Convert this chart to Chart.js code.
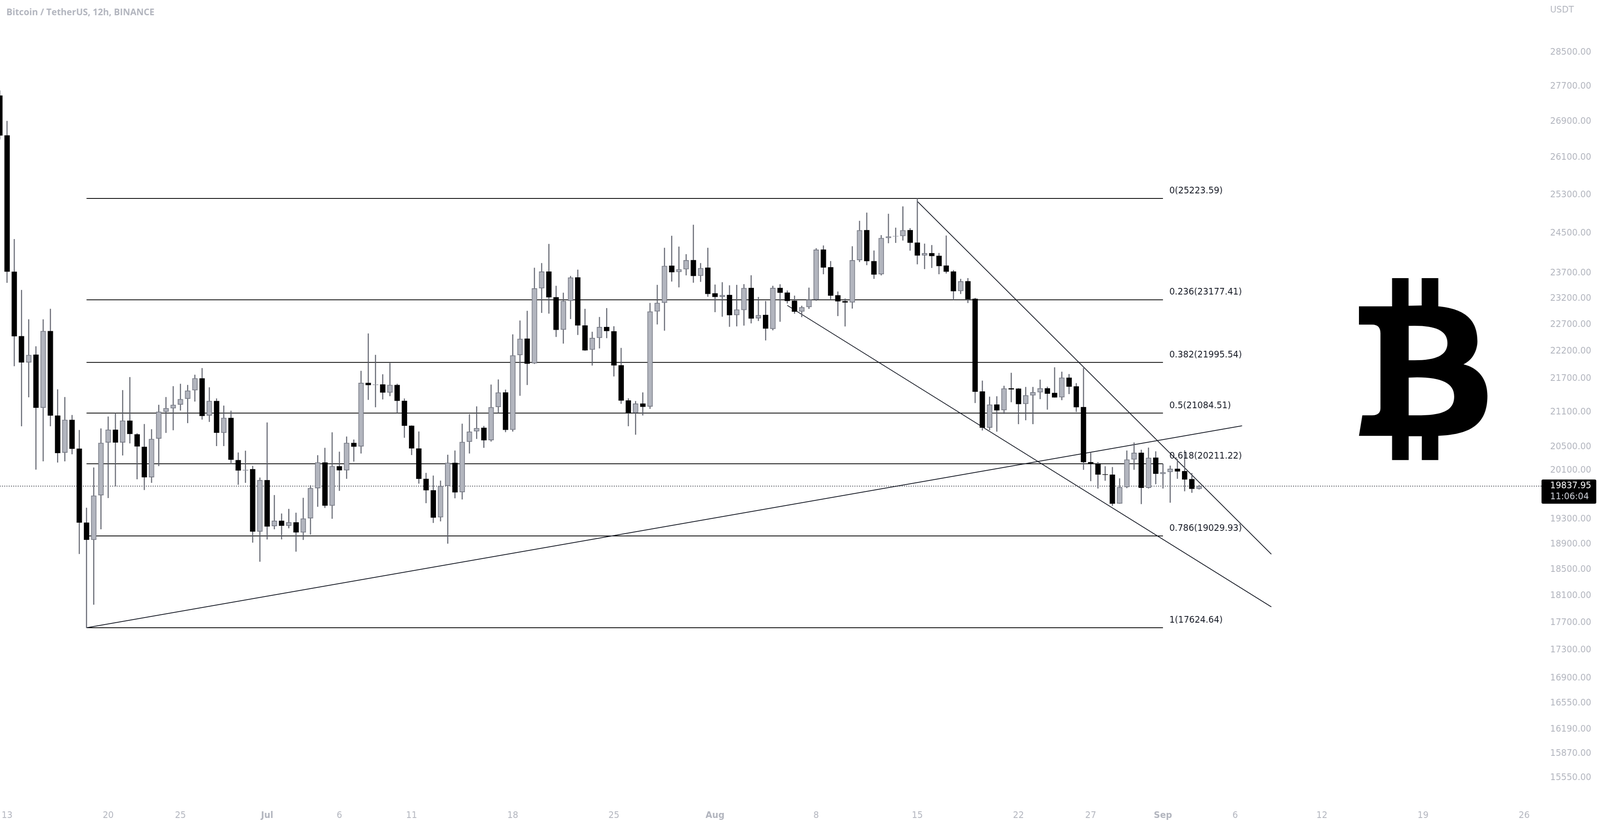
<!DOCTYPE html>
<html>
<head>
<meta charset="utf-8">
<title>Bitcoin / TetherUS, 12h, BINANCE</title>
<script src="https://cdn.jsdelivr.net/npm/chart.js@4"></script>
<style>
  html, body { margin: 0; padding: 0; background: #fff; overflow: hidden; }
  canvas { display: block; }
</style>
</head>
<body>
<canvas id="grafico" width="4268" height="2112" style="width:100vw;height:100vh"></canvas>
<script>
const opens = [
  27486,26587,23727,22483,21997,22139,21180,22579,21042,20400,
  20966,20467,19243,18968,19688,20574,20794,20574,20953,20714,
  20500,19985,20641,21108,21170,21236,21339,21491,21705,21042,
  21298,20741,21000,20274,20098,20121,19100,19935,19187,19271,
  19193,19246,19085,19312,19804,20234,19517,20170,20101,20567,
  20507,21622,21586,21594,21450,21586,21301,20863,20469,19959,
  19768,19329,19842,20227,19739,20587,20767,20828,20614,21194,
  21452,20794,22133,22437,21980,23401,23728,23227,22606,23157,
  23614,22685,22231,22451,22657,22575,21944,21309,21091,21254,
  21201,22953,23119,23845,23722,23776,23957,23646,23806,23302,
  23235,23270,22885,22982,23407,22823,22885,22621,23408,23317,
  23158,22952,23038,23180,24169,23815,23264,23152,23127,23959,
  24565,23936,23677,24405,24436,24444,24565,24311,24052,24098,
  24045,23849,23731,23348,23540,23196,21470,20831,21236,21137,
  21525,21520,21247,21399,21454,21525,21443,21365,21717,21560,
  21192,20238,20207,20035,20028,19550,19823,20285,20398,19810,
  20314,20041,20073,20127,20088,19953,19793
];
const highs = [
  27600,26907,24380,23365,22800,22292,22800,23000,21505,21367,
  21049,20787,19481,20147,20815,21022,21084,21491,21726,20730,
  20891,20801,21229,21367,21562,21605,21584,21769,21890,21541,
  21342,21215,21125,20400,20431,20174,19978,20918,19688,19387,
  19462,19400,19643,19849,20354,20480,20747,20414,20674,20622,
  21840,22532,22133,21777,21982,21606,21341,20866,20761,20056,
  20011,19927,20362,20434,20897,21063,21201,20857,21591,21683,
  21500,22515,22777,22962,23803,23896,24281,23447,23312,23640,
  23765,23000,22564,22844,23014,22668,22262,21344,21296,21450,
  23113,23465,24203,24447,24227,24074,24673,23896,24203,23471,
  23517,23456,23465,23479,23654,23229,23151,23447,23477,23355,
  23255,23059,23411,24195,24250,23936,23335,23200,24234,24754,
  24924,24148,24460,24900,24613,25054,24602,25223.59,24287,24258,
  24098,24452,23757,23583,23598,23211,21662,21374,21381,21569,
  21804,21525,21548,21548,21680,21553,21904,21824,21781,21617,
  21892,20400,20238,20167,20154,19965,20434,20572,20447,20484,
  20420,20209,20178,20291,20438,20052,19856
];
const lows = [
  26500,23510,21929,20856,21367,20114,20254,20856,20234,20254,
  20374,18747,17624.64,17970,19137,19643,19836,20354,20560,19953,
  19775,19894,20174,20741,20787,21132,20911,21291,20973,20932,
  20514,20514,20207,19862,19894,18925,18626,18975,19137,18977,
  19153,18783,18968,19052,19500,19481,19306,19761,19961,20250,
  20387,21321,21190,21329,21387,21087,20657,20361,19881,19559,
  19239,19264,18909,19639,19620,20387,20637,20484,20591,21087,
  20754,20764,21394,21587,21970,22927,22913,22471,22347,22809,
  22508,22214,21941,22257,22448,21742,21251,20857,20710,21045,
  21162,22707,22589,23535,23421,23657,23512,23529,23238,22941,
  22854,22662,22671,22685,22727,22772,22406,22596,22758,23109,
  22912,22846,23003,23160,23679,23190,22866,22669,23010,23922,
  23859,23588,23656,24300,24307,24355,24150,23876,23781,23804,
  23679,23694,23177,23292,23117,21265,20783,20787,20763,21072,
  21279,20893,20961,20893,21334,21148,21362,21316,21424,21107,
  20112,19922,19800,19929,19515,19550,19806,20112,19544,19800,
  19871,19800,19567,19961,19754,19729,19784
];
const closes = [
  26587,23727,22483,21997,22132,21180,22579,21042,20394,20966,
  20467,19243,18968,19681,20567,20794,20574,20953,20721,20507,
  19985,20634,21108,21170,21229,21332,21484,21705,21036,21298,
  20741,21000,20281,20098,20108,19100,19936,19181,19271,19193,
  19246,19085,19307,19804,20234,19517,20170,20101,20567,20503,
  21622,21584,21594,21450,21586,21301,20863,20474,19959,19768,
  19322,19836,20227,19735,20581,20761,20822,20611,21187,21450,
  20791,22125,22432,21972,23398,23728,23224,22603,23154,23611,
  22685,22220,22448,22654,22581,21941,21307,21085,21251,21196,
  22950,23116,23842,23719,23773,23954,23643,23797,23291,23232,
  23267,22882,22988,23404,22817,22882,22626,23405,23314,23155,
  22949,23033,23177,24166,23812,23258,23147,23124,23954,24562,
  23938,23671,24402,24433,24444,24562,24307,24049,24095,24040,
  23838,23728,23345,23535,23188,21465,20831,21234,21134,21522,
  21508,21245,21399,21454,21525,21431,21362,21717,21557,21189,
  20238,20207,20032,20026,19548,19819,20282,20396,19808,20312,
  20045,20067,20125,20084,19948,19793,19837.95
];

const fibNiveles = ['0', '0.236', '0.382', '0.5', '0.618', '0.786', '1'];
const fibPrecios = [25223.59, 23177.41, 21995.54, 21084.51, 20211.22, 19029.93, 17624.64];
const fibInicio = 12;
const fibFin = 161;

// trend lines: bar index and price of both ends
const tendenciaX = [[12, 171.95], [127, 176], [109, 176]];
const tendenciaY = [[17624.64, 20863], [25162, 18741], [23069, 17935]];

const precioActual = 19837.95;
const cuentaAtras = '11:06:04';

const yTicks = [28500, 27700, 26900, 26100, 25300, 24500, 23700, 23200, 22700, 22200, 21700, 21100, 20500, 20100,
  19300, 18900, 18500, 18100, 17700, 17300, 16900, 16550, 16190, 15870, 15550];
const xTicks = [1, 15, 25, 37, 47, 57, 71, 85, 99, 113, 127, 141, 151, 161, 171, 183, 197, 211];
const xLabels = ['13', '20', '25', 'Jul', '6', '11', '18', '25', 'Aug', '8', '15', '22', '27', 'Sep', '6', '12', '19', '26'];

const FUENTE = '"DejaVu Sans"';
const GRIS_TEXTO = '#b2b5be';

function colorCuerpo(ctx) {
  const i = ctx.dataIndex;
  return closes[i] >= opens[i] ? '#b2b5be' : '#000000';
}
function colorBorde(ctx) {
  const i = ctx.dataIndex;
  return closes[i] >= opens[i] ? '#787b86' : '#000000';
}

// tick labels must not push the plot area in from the page edge
function sinRelleno(s) {
  s.paddingLeft = 0;
  s.paddingRight = 0;
  s.paddingTop = 0;
  s.paddingBottom = 0;
}

const datasets = [];

// wicks and bodies, lower order is drawn on top
datasets.push({
  type: 'bar',
  data: highs.map((h, i) => ({ x: i, y: [lows[i], h] })),
  backgroundColor: '#5a5d68',
  borderWidth: 0,
  barThickness: 2,
  maxBarThickness: 2,
  grouped: false,
  order: 2
});
datasets.push({
  type: 'bar',
  data: opens.map((o, i) => ({ x: i, y: [o, closes[i]] })),
  backgroundColor: colorCuerpo,
  borderColor: colorBorde,
  borderWidth: 2,
  borderSkipped: false,
  barThickness: 14,
  maxBarThickness: 14,
  grouped: false,
  order: 1
});

fibPrecios.forEach(p => {
  datasets.push({
    type: 'line',
    data: [{ x: fibInicio, y: p }, { x: fibFin, y: p }],
    borderColor: '#000000',
    borderWidth: 2,
    pointRadius: 0,
    order: 5
  });
});

tendenciaX.forEach((tx, n) => {
  datasets.push({
    type: 'line',
    data: [{ x: tx[0], y: tendenciaY[n][0] }, { x: tx[1], y: tendenciaY[n][1] }],
    borderColor: '#131722',
    borderWidth: 2,
    pointRadius: 0,
    order: 4
  });
});

datasets.push({
  type: 'line',
  data: [{ x: 0, y: precioActual }, { x: 214, y: precioActual }],
  borderColor: '#131722',
  borderWidth: 2,
  borderDash: [2, 4],
  pointRadius: 0,
  order: 3
});

// bitcoin logo, path units are 1/3 page pixel from the top left of its box
function dibujarLogo(c) {
  c.save();
  c.translate(3600, 680);
  c.scale(1 / 3, 1 / 3);
  const p = new Path2D();
  p.moveTo(75, 313);
  p.lineTo(340, 313); p.lineTo(340, 96); p.lineTo(472, 96); p.lineTo(472, 308);
  p.lineTo(577, 306); p.lineTo(577, 96); p.lineTo(710, 96); p.lineTo(710, 313);
  p.bezierCurveTo(900, 330, 1023, 400, 1023, 580);
  p.bezierCurveTo(1023, 650, 985, 725, 912, 758);
  p.bezierCurveTo(1030, 785, 1103, 870, 1103, 1000);
  p.bezierCurveTo(1103, 1230, 950, 1298, 710, 1307);
  p.lineTo(710, 1493); p.lineTo(578, 1493); p.lineTo(578, 1310); p.lineTo(473, 1310);
  p.lineTo(473, 1493); p.lineTo(340, 1493); p.lineTo(340, 1307); p.lineTo(75, 1307);
  p.lineTo(102, 1150); p.lineTo(180, 1150);
  p.bezierCurveTo(225, 1150, 247, 1130, 247, 1095);
  p.lineTo(247, 520);
  p.bezierCurveTo(247, 475, 225, 453, 180, 453);
  p.lineTo(75, 453);
  p.closePath();
  p.moveTo(473, 463); p.lineTo(520, 462);
  p.bezierCurveTo(690, 462, 783, 500, 783, 595);
  p.bezierCurveTo(783, 690, 690, 727, 520, 727);
  p.lineTo(473, 727);
  p.closePath();
  p.moveTo(473, 860); p.lineTo(540, 858);
  p.bezierCurveTo(740, 858, 837, 905, 837, 1005);
  p.bezierCurveTo(837, 1120, 730, 1150, 540, 1150);
  p.lineTo(473, 1150);
  p.closePath();
  c.fillStyle = '#000000';
  c.fill(p, 'evenodd');
  c.restore();
}

const extras = {
  id: 'extras',
  afterDraw(chart) {
    const c = chart.ctx;
    const x = chart.scales.x;
    const y = chart.scales.y;

    c.save();
    c.textBaseline = 'middle';
    c.textAlign = 'left';

    // fib labels
    c.font = '23px ' + FUENTE;
    c.fillStyle = '#131722';
    fibPrecios.forEach((p, i) => {
      c.fillText(fibNiveles[i] + '(' + p.toFixed(2) + ')', x.getPixelForValue(fibFin) + 17, y.getPixelForValue(p) - 19);
    });

    dibujarLogo(c);

    // title and currency
    c.font = 'bold 24px "Open Sans"';
    c.fillStyle = GRIS_TEXTO;
    c.fillText('Bitcoin / TetherUS, 12h, BINANCE', 17, 32);
    c.font = '23px ' + FUENTE;
    c.fillText('USDT', 4135, 26);

    // price tag
    const py = y.getPixelForValue(precioActual);
    c.fillStyle = '#000000';
    c.beginPath();
    c.roundRect(4112, py - 17, 146, 62, 4);
    c.fill();
    c.fillStyle = '#ffffff';
    c.fillText(precioActual.toFixed(2), 4135, py);
    c.fillStyle = '#d1d4dc';
    c.fillText(cuentaAtras, 4135, py + 28);
    c.restore();
  }
};

new Chart(document.getElementById('grafico').getContext('2d'), {
  data: { datasets },
  plugins: [extras],
  options: {
    responsive: false,
    animation: false,
    devicePixelRatio: 1,
    layout: { padding: 0, autoPadding: false },
    plugins: { legend: { display: false }, tooltip: { enabled: false } },
    scales: {
      x: {
        type: 'linear',
        offset: false,
        min: 0.026,
        max: 213.4,
        bounds: 'data',
        grid: { display: false, drawTicks: false },
        border: { display: false },
        afterBuildTicks: s => { s.ticks = xTicks.map(v => ({ value: v })); },
        afterFit: s => { s.height = 62; sinRelleno(s); },
        ticks: {
          autoSkip: false,
          maxRotation: 0,
          padding: 24,
          color: GRIS_TEXTO,
          font: ctx => ({
            family: FUENTE,
            size: 23,
            weight: ['Jul', 'Aug', 'Sep'].includes(xLabels[ctx.index]) ? 'bold' : 'normal'
          }),
          callback: v => xLabels[xTicks.indexOf(v)]
        }
      },
      y: {
        type: 'logarithmic',
        position: 'right',
        min: 15254,
        max: 29769,
        bounds: 'data',
        grid: { display: false, drawTicks: false },
        border: { display: false },
        afterBuildTicks: s => { s.ticks = yTicks.map(v => ({ value: v })); },
        afterFit: s => { s.width = 156; sinRelleno(s); },
        ticks: {
          autoSkip: false,
          padding: 23,
          color: GRIS_TEXTO,
          font: { family: FUENTE, size: 23 },
          callback: v => Number(v).toFixed(2)
        }
      }
    }
  }
});
</script>
</body>
</html>
